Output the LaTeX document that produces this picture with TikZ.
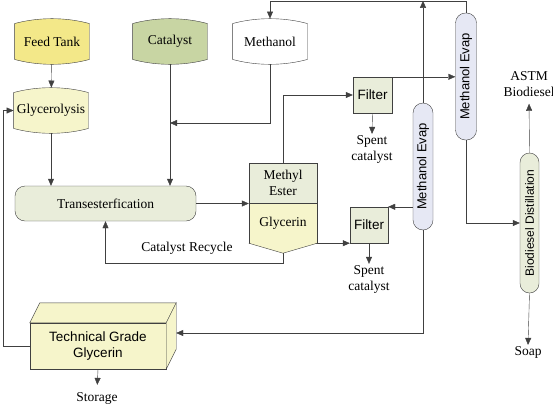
\documentclass[tikz,border=0pt]{standalone}
\usepackage{fontspec}
\setmainfont{Liberation Serif}
\setsansfont{Liberation Sans}
\usetikzlibrary{arrows.meta,calc,backgrounds}
\definecolor{LineClr}{RGB}{64,64,64}
\definecolor{FeedClr}{RGB}{243,232,137}
\definecolor{CatClr}{RGB}{200,213,163}
\definecolor{PaleYlw}{RGB}{246,245,203}
\definecolor{PaleGrn}{RGB}{233,237,218}
\definecolor{PaleBlu}{RGB}{230,232,244}

% barrel outline behind a tank node
\newcommand{\TankShape}[2]{%
  \begin{pgfonlayer}{background}
  \filldraw[draw=LineClr,fill=#2]
    ($(#1.north west)+(0,5)$) .. controls ($(#1.north west)+(24,-1.5)$) and ($(#1.north east)+(-24,-1.5)$) .. ($(#1.north east)+(0,5)$)
    -- ($(#1.south east)+(0,-5)$) .. controls ($(#1.south east)+(-24,1.5)$) and ($(#1.south west)+(24,1.5)$) .. ($(#1.south west)+(0,-5)$)
    -- cycle;
  \end{pgfonlayer}}

\begin{document}
\begin{tikzpicture}[x=1pt,y=-1pt,line width=.9pt,
  font=\fontsize{13.5}{16}\selectfont,
  flow/.style={draw=LineClr,-{Triangle[length=7pt,width=6pt]}},
  tank/.style={minimum width=74pt,minimum height=45pt,inner sep=0pt},
  box/.style={draw=LineClr,fill=PaleGrn,inner sep=0pt,font=\sffamily\fontsize{13.5}{16}\selectfont},
  evap/.style={draw=LineClr,rounded corners=10pt,inner sep=0pt,minimum width=21pt,minimum height=127pt,font=\sffamily\fontsize{13}{16}\selectfont},
  lbl/.style={align=center,inner sep=1pt}]
\useasboundingbox (0,0) rectangle (553,407);

\node[tank] (ft) at (52,41.5) {Feed Tank};
\node[tank] (cat) at (170,41.5) {Catalyst};
\node[tank] (meth) at (270,41.5) {Methanol};
\node[tank] (gly) at (51,110.5) {Glycerolysis};
\TankShape{ft}{FeedClr}
\TankShape{cat}{CatClr}
\TankShape{meth}{white}
\TankShape{gly}{PaleYlw}

\node[draw=LineClr,fill=PaleGrn,rounded corners=10pt,minimum width=181pt,minimum height=35pt] (trans) at (105.5,203.5) {Transesterfication};

\node[draw=LineClr,fill=PaleGrn,minimum width=68pt,minimum height=40pt,inner sep=0pt,align=center] (me) at (283,183) {Methyl\\Ester};
\node[draw=LineClr,fill=PaleYlw,minimum width=68pt,minimum height=40pt,inner sep=0pt] (glyc) at (283,223) {Glycerin};
\coordinate (gtip) at ($(glyc.south)+(0,10)$);
\filldraw[draw=LineClr,fill=PaleYlw] (glyc.south west) -- (gtip) -- (glyc.south east);

\node[box,minimum width=39pt,minimum height=36pt] (f1) at (372.5,95) {Filter};
\node[box,minimum width=38pt,minimum height=36pt] (f2) at (369,225) {Filter};

\node[evap,fill=PaleBlu] (mev1) at (466,76.5) {\rotatebox{90}{Methanol Evap}};
\node[evap,fill=PaleBlu,minimum width=20pt] (mev2) at (423,166.5) {\rotatebox{90}{Methanol Evap}};
\node[evap,fill=PaleGrn,minimum width=19pt,minimum height=140pt,rounded corners=9.5pt,font=\sffamily\fontsize{12}{14}\selectfont] (bd) at (529.5,223) {\rotatebox{90}{Biodiesel Distillation}};

\node[draw=LineClr,fill=PaleYlw,minimum width=136pt,minimum height=46pt,align=center,font=\sffamily\fontsize{13.5}{16}\selectfont] (tg) at (98,346) {Technical Grade\\Glycerin};
\filldraw[draw=LineClr,fill=PaleYlw] (tg.north west) -- ++(10,-20) -- ($(tg.north east)+(10,-20)$) -- (tg.north east) -- cycle;
\filldraw[draw=LineClr,fill=PaleYlw] (tg.north east) -- ++(10,-20) -- ($(tg.south east)+(10,-20)$) -- (tg.south east) -- cycle;
\coordinate (tgr) at ($(tg.east)+(10,-13)$);

\node[lbl] (sp1) at (372,149) {Spent\\catalyst};
\node[lbl] (sp2) at (369,279) {Spent\\catalyst};
\node[lbl] (stor) at (97,398) {Storage};
\node[lbl] (soap) at (528,352) {Soap};
\node[lbl] (astm) at (529,84) {ASTM\\Biodiesel};
\node[lbl] (recyc) at (187,248) {Catalyst Recycle};

\coordinate (mix) at (170,123);
\coordinate (top) at ($(mev1.north)+(0,-12)$);

\draw[flow] (ft) -- (gly);
\draw[flow] (gly.south) -- (gly.south |- trans.north);
\draw[flow] (cat.south) -- (cat.south |- trans.north);
\draw[flow] (meth.south) |- (mix);
\draw[flow] (trans.east) -- (trans.east -| me.west);
\draw[flow] (me.north) |- (f1.west);
\draw[flow] (f1.north east) -- (f1.north east -| mev1.west);
\draw[flow] (f1.south) -- (sp1.north);
\draw[flow] (mev1.north) |- (top) -| (meth.north);
\draw[flow] (mev2.north) -- (mev2.north |- top);
\draw[flow] (f2.north east -| mev2.west) -- (f2.north east);
\draw[flow] (glyc.south east) -- (f2.south west);
\draw[flow] (gtip) -- ++(0,10) -| (trans.south);
\draw[flow] (f2.south) -- (sp2.north);
\draw[flow] (mev2.south) |- (tgr);
\draw[flow] (tg.west) -- ++(-27,0) |- (gly.west);
\draw[flow,shorten >=6pt] (tg.south) -- (stor.north);
\draw[flow] (mev1.south) |- (bd.west);
\draw[flow,shorten >=6pt] (bd.north) -- (astm.south);
\draw[flow] (bd.south) -- (soap.north);

\end{tikzpicture}
\end{document}
